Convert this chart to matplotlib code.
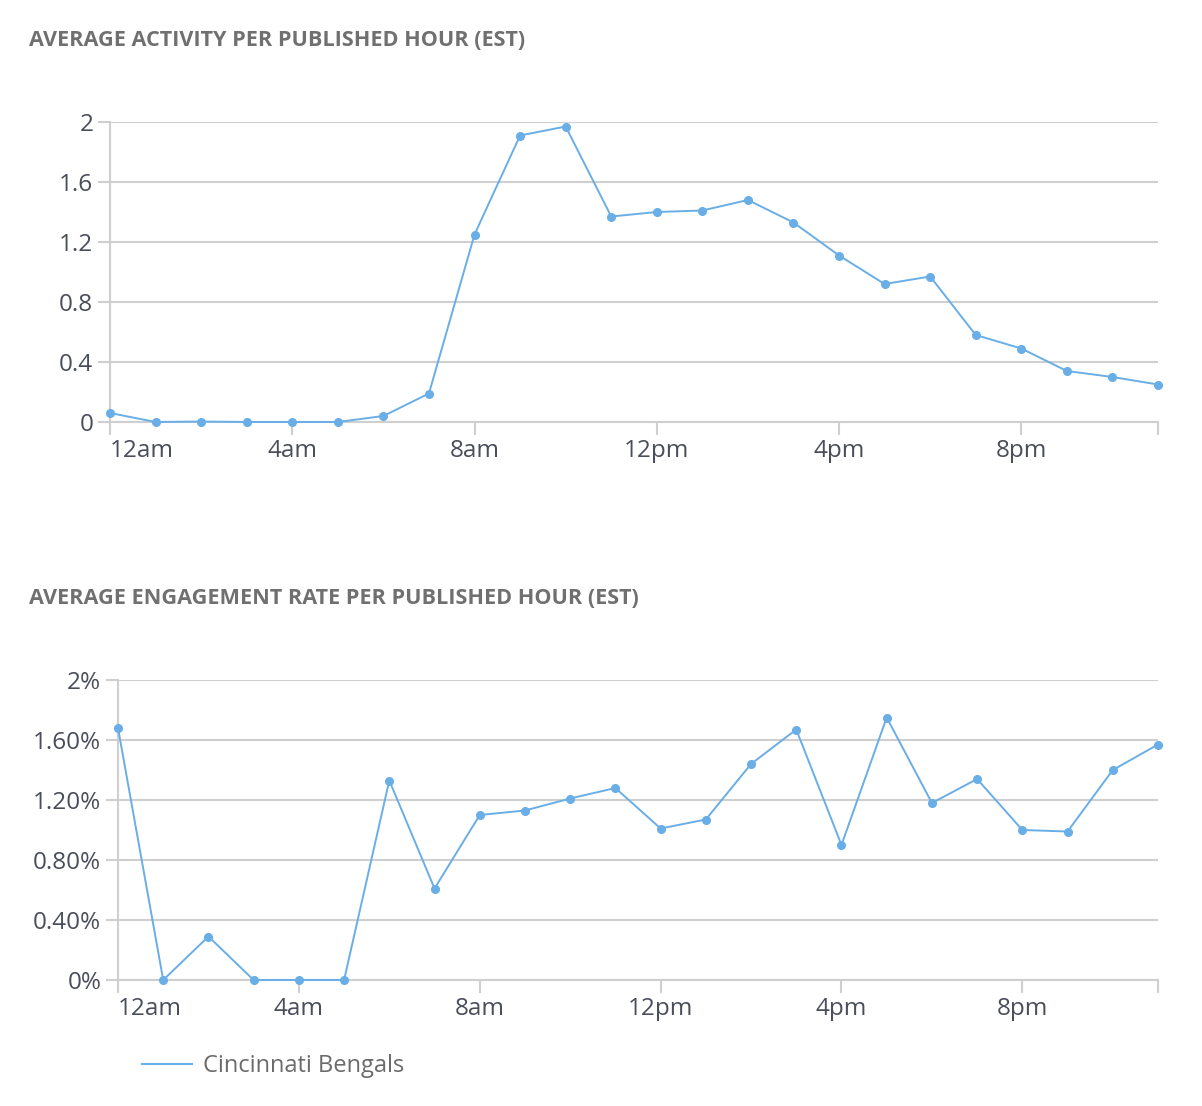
import matplotlib
matplotlib.use("Agg")
import matplotlib.pyplot as plt
from matplotlib.lines import Line2D

hours = list(range(24))
activity = [0.06, 0.0, 0.003, 0.0, 0.0, 0.0, 0.04, 0.19, 1.25, 1.91, 1.97, 1.37,
            1.40, 1.41, 1.48, 1.33, 1.11, 0.92, 0.97, 0.58, 0.49, 0.34, 0.30, 0.25]
engagement = [1.68, 0.0, 0.29, 0.0, 0.0, 0.0, 1.33, 0.61, 1.10, 1.13, 1.21, 1.28,
              1.01, 1.07, 1.44, 1.67, 0.90, 1.75, 1.18, 1.34, 1.00, 0.99, 1.40, 1.57]
xtick_pos = [0, 4, 8, 12, 16, 20, 23]
xtick_labels = ["12am", "4am", "8am", "12pm", "4pm", "8pm", ""]
top_yticks = [0, 0.4, 0.8, 1.2, 1.6, 2]
top_ylabels = ["0", "0.4", "0.8", "1.2", "1.6", "2"]
bot_yticks = [0, 0.4, 0.8, 1.2, 1.6, 2]
bot_ylabels = ["0%", "0.40%", "0.80%", "1.20%", "1.60%", "2%"]
titles = ["AVERAGE ACTIVITY PER PUBLISHED HOUR (EST)",
          "AVERAGE ENGAGEMENT RATE PER PUBLISHED HOUR (EST)"]
series_name = "Cincinnati Bengals"

plt.rcParams['font.family'] = ['Open Sans', 'DejaVu Sans']
W, H = 1202, 1106
fig = plt.figure(figsize=(W / 100, H / 100), dpi=100)

LINE = "#69aee6"
GRID = "#cfcfcf"
TICK = "#4a4e5a"
TITLE = "#707070"


def make_axes(left, right, top, bottom):
    return fig.add_axes([left / W, 1 - bottom / H, (right - left) / W, (bottom - top) / H])


def style(ax, yt, yl):
    ax.set_xlim(0, 23)
    ax.set_ylim(0, 2)
    ax.set_yticks(yt)
    ax.set_yticklabels(yl)
    ax.set_xticks(xtick_pos)
    ax.set_xticklabels(xtick_labels)
    for s in ["top", "right"]:
        ax.spines[s].set_visible(False)
    for s in ["left", "bottom"]:
        ax.spines[s].set_color(GRID)
        ax.spines[s].set_linewidth(1.5)
    ax.yaxis.grid(True, color=GRID, linewidth=1.5)
    ax.set_axisbelow(True)
    ax.tick_params(axis="both", colors=GRID, length=9, width=1.5, labelcolor=TICK,
                   labelsize=17.5)
    ax.tick_params(axis="y", pad=3)
    ax.tick_params(axis="x", pad=3)
    lbls = ax.get_xticklabels()
    lbls[0].set_horizontalalignment("left")


ax1 = make_axes(110, 1158, 122, 422)
ax1.plot(hours, activity, color=LINE, lw=1.4, marker="o", ms=5.5, clip_on=False, zorder=3)
style(ax1, top_yticks, top_ylabels)

ax2 = make_axes(118, 1158, 680, 980)
ax2.plot(hours, engagement, color=LINE, lw=1.4, marker="o", ms=5.5, clip_on=False, zorder=3)
style(ax2, bot_yticks, bot_ylabels)

fig.text(29 / W, 1 - 41 / H, titles[0], fontsize=15.6, fontweight="bold", color=TITLE,
         va="center", ha="left")
fig.text(29 / W, 1 - 599 / H, titles[1], fontsize=15.6, fontweight="bold", color=TITLE,
         va="center", ha="left")

leg = fig.legend(handles=[Line2D([0], [0], color=LINE, lw=1.5)], labels=[series_name],
                 loc="center left", bbox_to_anchor=(142 / W, 1 - 1066 / H), frameon=False,
                 fontsize=17, handlelength=2.1, handletextpad=0.47, borderpad=0,
                 borderaxespad=0)
for t in leg.get_texts():
    t.set_color("#6b6b6b")

fig.savefig("out.png", dpi=100, facecolor="white")
